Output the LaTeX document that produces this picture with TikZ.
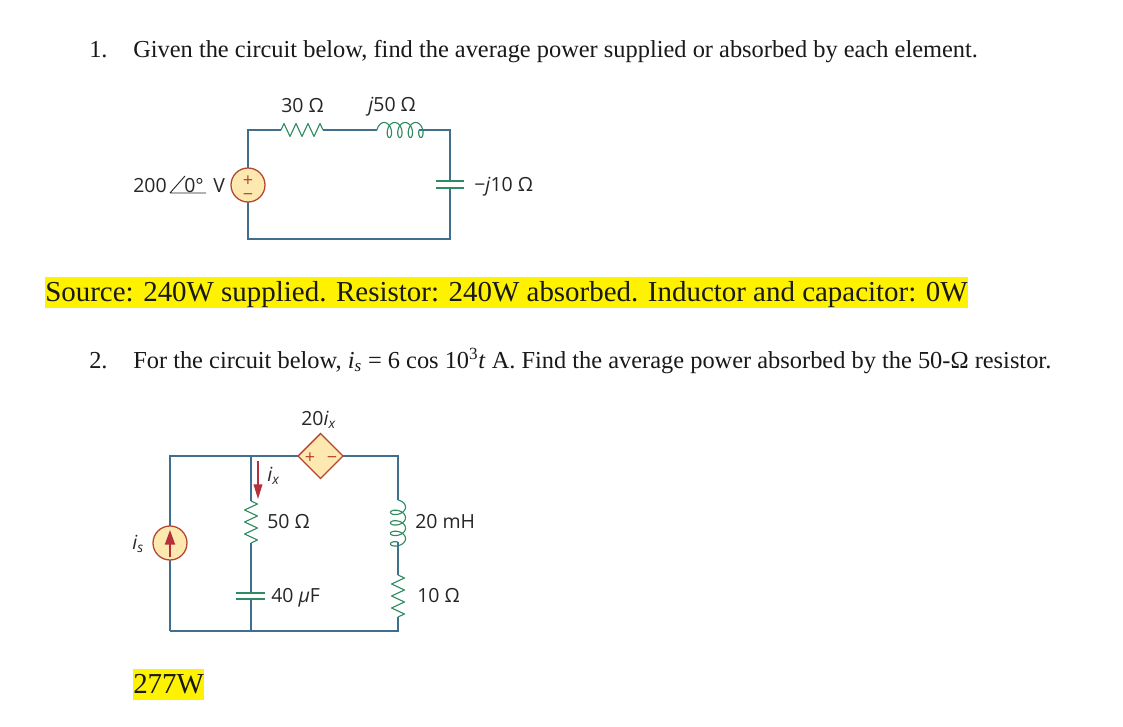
\documentclass[tikz,border=0pt]{standalone}
\usepackage{fontspec}
\setmainfont{Liberation Serif}
\newfontfamily\lab{Open Sans}
\usetikzlibrary{arrows.meta,shapes.geometric}
\definecolor{wirec}{HTML}{3F6F8C}
\definecolor{compc}{HTML}{2E8B62}
\definecolor{srcedge}{HTML}{B5452F}
\definecolor{srcfill}{HTML}{FDE8B0}
\definecolor{arrc}{HTML}{B5303A}
\definecolor{labc}{HTML}{262626}
\tikzset{
 wire/.style={draw=wirec,line width=0.95pt},
 comp/.style={draw=compc,line width=0.85pt,line join=round},
 srcc/.style={circle,draw=srcedge,fill=srcfill,line width=0.95pt,minimum size=25.5pt,inner sep=0pt},
 srcd/.style={diamond,draw=srcedge,fill=srcfill,line width=0.95pt,minimum width=34pt,minimum height=34pt,inner sep=0pt},
 sign/.style={text=srcedge,font=\lab\fontsize{13.5}{13.5}\selectfont,inner sep=0pt,text height=8pt,text depth=0pt},
 signs/.style={text=srcedge,font=\lab\fontsize{13.5}{10.5}\selectfont,align=center},
 para/.style={anchor=base west,inner sep=0pt,font=\fontsize{18.3}{20}\selectfont,text=black!90},
 hilite/.style={anchor=base west,fill=yellow,inner xsep=0pt,inner ysep=0pt,text height=18pt,text depth=5pt,font=\fontsize{21.7}{24}\selectfont,text=black!90},
 clab/.style={anchor=west,inner sep=0pt,text=labc,font=\lab\fontsize{14.6}{16}\selectfont},
 res/.pic={\draw[comp] (0,0)--(3,-6.5)--(9,6.5)--(15,-6.5)--(21,6.5)--(27,-6.5)--(33,6.5)--(39,-6.5)--(42,0);},
 ind/.pic={\draw[comp] plot[smooth,domain=0:1440,samples=120,variable=\t] ({4.5+42*(\t/1440)-4.5*cos(\t)},{-7.5*sin(\t)});},
 capwire/.style={draw=compc,line width=0.95pt},
}
\begin{document}
\begin{tikzpicture}[x=0.75pt,y=-0.75pt]
\useasboundingbox (0,0) rectangle (1123,727);
\fill[white] (0,0) rectangle (1123,727);
% Question text
\node[para] (n1) at (89,58) {1.};
\node[para] (q1) at (133,58) {Given the circuit below, find the average power supplied or absorbed by each element.};
\node[hilite] (a1) at (45,301) {Source: 240W supplied. Resistor: 240W absorbed. Inductor and capacitor: 0W};
\node[para] (n2) at (89,368) {2.};
\node[para] (q2) at (133,368) {For the circuit below, \textit{i\textsubscript{s}} = 6 cos 10\textsuperscript{3}\textit{t} A. Find the average power absorbed by the 50-Ω resistor.};
\node[hilite] (a2) at (133,693) {277W};
% Circuit 1
\coordinate (tl) at (248,130);
\coordinate (tr) at (450,130);
\coordinate (bl) at (248,239);
\coordinate (br) at (450,239);
\coordinate (r1a) at (281,130);
\coordinate (r1b) at (323,130);
\coordinate (l1a) at (377,130);
\coordinate (l1b) at (419,130);
\coordinate (c1a) at (450,181);
\coordinate (c1b) at (450,188);
\draw[wire] (c1b)--(br)--(bl)--(tl)--(r1a) (r1b)--(l1a) (l1b)--(tr)--(c1a);
\pic at (r1a) {res};
\pic at (l1a) {ind};
\draw[capwire] (436,181)--(464,181) (436,188)--(464,188);
\node[srcc] (v1) at (248,185) {};
\node[signs,inner sep=0pt] (vs) at (248,188) {+\\\textminus};
\node[clab] (l30) at (281,105.5) {30 Ω};
\node[clab] (l50) at (368,107) {\textit{j}50 Ω};
\node[clab] (l10) at (474,187) {\textminus\textit{j}10 Ω};
\node[clab] (l200) at (133,186) {200};
\node[clab] (l0) at (184,186) {0\textdegree};
\node[clab] (lv) at (213,186) {V};
\draw[labc,line width=0.7pt] (170,193)--(185,176) (170,193)--(206,193);
% Circuit 2
\coordinate (a) at (170,456);
\coordinate (b) at (251,456);
\coordinate (c) at (398,456);
\coordinate (d) at (398,631);
\coordinate (e) at (251,631);
\coordinate (f) at (170,631);
\coordinate (r2a) at (251,501);
\coordinate (r2b) at (251,543);
\coordinate (c2a) at (251,593);
\coordinate (c2b) at (251,599);
\coordinate (l2a) at (398,500);
\coordinate (l2b) at (398,542);
\coordinate (r3a) at (398,575);
\coordinate (r3b) at (398,617);
\coordinate (ar1) at (258,461);
\coordinate (ar2) at (258,499);
\draw[wire] (f)--(a)--(c)--(l2a) (l2b)--(r3a) (r3b)--(d)--(f);
\draw[wire] (b)--(r2a) (r2b)--(c2a) (c2b)--(e);
\pic[rotate=-90] at (r2a) {res};
\pic[rotate=-90] at (l2a) {ind};
\pic[rotate=-90] at (r3a) {res};
\draw[capwire] (236,593)--(265,593) (236,599)--(265,599);
\node[srcc] (i1) at (170,543) {};
\coordinate (ia) at (170,557);
\coordinate (ib) at (170,530);
\draw[arrc,line width=1.4pt,-{Triangle[length=11pt,width=7.5pt]}] (ia)--(ib);
\node[srcd] (dep) at (320.5,456) {};
\node[sign] (dp) at (310,458.5) {+};
\node[sign] (dm) at (332,458.5) {\textminus};
\draw[arrc,line width=1.1pt,-{Triangle[length=11pt,width=6.5pt]}] (ar1)--(ar2);
\node[clab] (l20) at (301,420) {20\textit{i}\textsubscript{\textit{x}}};
\node[clab] (lix) at (267,476) {\textit{i}\textsubscript{\textit{x}}};
\node[clab] (lis) at (132,544) {\textit{i}\textsubscript{\textit{s}}};
\node[clab] (l502) at (267,522) {50 Ω};
\node[clab] (l40) at (271,598) {40 \textit{μ}F};
\node[clab] (lmh) at (415,522) {20 mH};
\node[clab] (l102) at (417,596) {10 Ω};
\end{tikzpicture}
\end{document}
